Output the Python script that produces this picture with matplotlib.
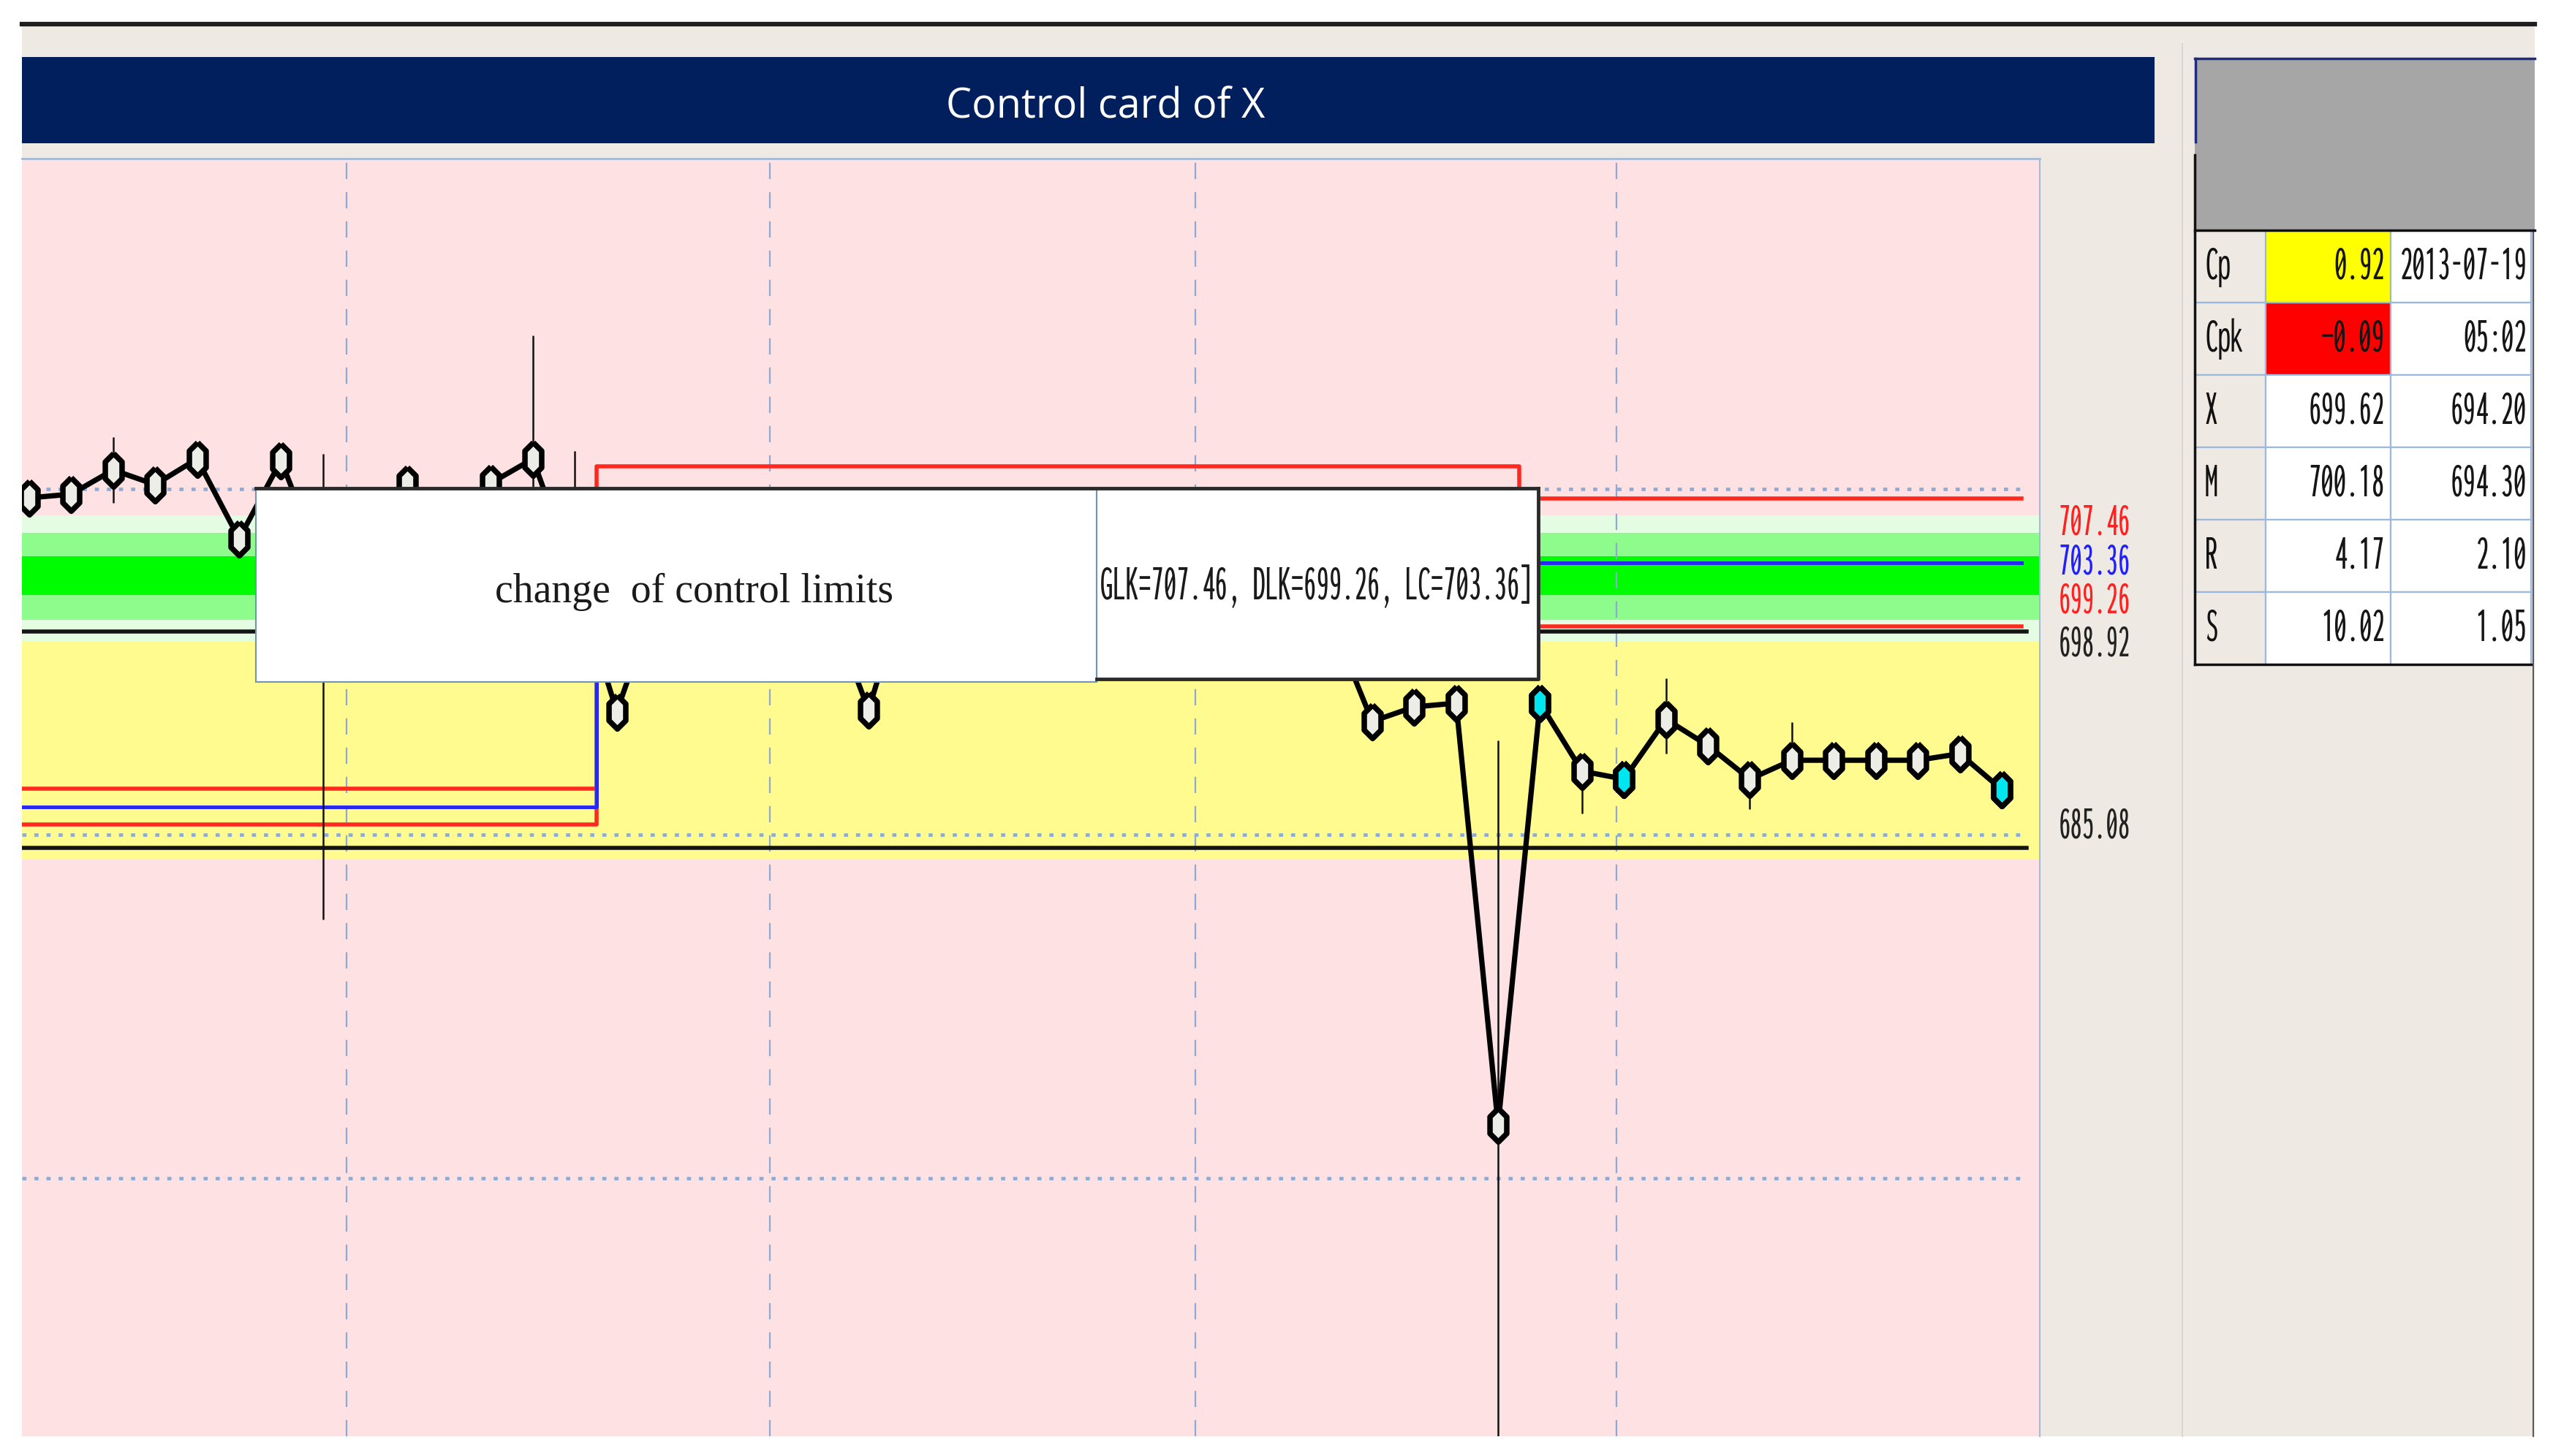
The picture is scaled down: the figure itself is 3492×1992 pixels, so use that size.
import matplotlib
matplotlib.use('Agg')
import matplotlib.pyplot as plt
from matplotlib import font_manager as fm
from matplotlib.font_manager import FontProperties
from matplotlib.markers import MarkerStyle
from matplotlib.patches import Rectangle

# subgroup means, samples 0..47 (the ones under the note box are guesses)
xbar = [707.5, 707.74, 709.29, 708.35, 710.0, 704.88, 709.9, 703.0, 705.5, 708.4,
        704.5, 708.45, 710.0, 702.5, 693.8, 701.5, 703.8, 702.0, 704.6, 701.0,
        693.9, 702.8, 704.0, 701.8, 703.5, 702.2, 704.8, 703.0, 701.5, 703.9,
        702.4, 699.8, 693.17, 694.1, 694.34, 667.3, 694.34, 689.98, 689.47, 693.31,
        691.62, 689.47, 690.68, 690.68, 690.68, 690.68, 691.1, 688.81]
cyan_idx = [36, 38, 47]

# min/max whiskers that show on the picture
rng_idx = [2, 7, 12, 13, 35, 37, 39, 41, 42]
rng_lo = [707.2, 680.47, 705.0, 703.0, 640.0, 687.26, 691.1, 687.55, 690.3]
rng_hi = [711.4, 710.3, 717.9, 710.5, 691.95, 690.0, 695.93, 690.0, 693.12]

# control limits for three periods, change after sample 13 and after 35
lim_change = [13.52, 35.5]
ucl = [688.85, 709.5, 707.46]
cl = [687.7, 704.9, 703.36]
lcl = [686.55, 700.3, 699.26]
usl, lsl = 698.92, 685.08

yellow_zone = (684.31, 698.32)
green_edges = [698.32, 699.68, 701.27, 703.76, 705.26, 706.38]

grid_x = [7.56, 17.65, 27.79, 37.82]
grid_y = [663.9, 685.9, 708.07]

stat_names = ['Cp', 'Cpk', 'X', 'M', 'R', 'S']
stat_all = [0.92, -0.09, 699.62, 700.18, 4.17, 10.02]
stat_last = ['2013-07-19', '05:02', '694.20', '694.30', '2.10', '1.05']

W, H = 3492, 1992
fig = plt.figure(figsize=(W / 100, H / 100), dpi=100, facecolor='white')
renderer = fig.canvas.get_renderer()


def fit(s, prop, width_px):
    p = prop.copy()
    p.set_size(20)
    w = renderer.get_text_width_height_descent(s, p, ismath=False)[0]
    return 20 * width_px / w


def narrow_font():
    picks = []
    for f in fm.fontManager.ttflist:
        if 'condensed' not in str(f.stretch) or f.style != 'normal':
            continue
        w = f.weight if isinstance(f.weight, (int, float)) else fm.weight_dict.get(f.weight, 400)
        if w < 350 or w > 500 or 'Mono' in f.name or 'CJK' in f.name:
            continue
        picks.append(f.fname)
    if not picks:
        return FontProperties(family='Liberation Sans')

    def width(fn):
        p = FontProperties(fname=fn, size=20)
        return renderer.get_text_width_height_descent('699.62', p, ismath=False)[0]
    return FontProperties(fname=min(picks, key=width))


nar = narrow_font()

# window chrome, in pixel coordinates
bg = fig.add_axes([0, 0, 1, 1])
bg.set_xlim(0, W)
bg.set_ylim(H, 0)
bg.axis('off')
bg.add_patch(Rectangle((30, 36), 3437, 1929, fc='#EEE9E3', ec='none'))
bg.plot([30, 3467], [33, 33], color='#1E1E1E', lw=4.5)
bg.add_patch(Rectangle((30, 78), 2917, 118, fc='#001F5C', ec='none'))
bg.plot([30, 2790], [217, 217], color='#A3BAD8', lw=2)
bg.plot([2790, 2790], [217, 1965], color='#A3BAD8', lw=1.5)
bg.plot([2985, 2985], [60, 1965], color='#DCD6CE', lw=1.5)
bg.plot([3465, 3465], [315, 1965], color='#5A5A5A', lw=1.5)

title_prop = FontProperties(family=['Open Sans', 'DejaVu Sans'])
title_prop.set_size(fit('Control card of X', title_prop, 436))
bg.text(1512, 147, 'Control card of X', color='white', ha='center', va='center',
        fontproperties=title_prop)

# statistics table
bg.add_patch(Rectangle((3002, 81), 465, 234, fc='#A6A6A6', ec='none'))
bg.plot([3002, 3467], [80, 80], color='#1F2A80', lw=2.5)
bg.plot([3003, 3003], [80, 194], color='#1F2A80', lw=2.5)

tab_prop = nar.copy()
tab_prop.set_size(fit('699.62', nar, 105))
col_x = [3002, 3099, 3270, 3462]
row_h = 99
top = 315
for i, name in enumerate(stat_names):
    y0 = top + i * row_h
    fill = {0: '#FFFF00', 1: '#FF0000'}.get(i, 'white')
    for c, fc in enumerate(['#EEE9E3', fill, 'white']):
        bg.add_patch(Rectangle((col_x[c], y0), col_x[c + 1] - col_x[c], row_h,
                               fc=fc, ec='#9CB8DC', lw=1.6))
    ym = y0 + row_h / 2
    val = f'{stat_all[i]:.2f}'.replace('-', '\u2212')
    bg.text(3016, ym, name, ha='left', va='center', color='#111111', fontproperties=tab_prop)
    bg.text(3262, ym, val, ha='right', va='center', color='#151515', fontproperties=tab_prop)
    bg.text(3456, ym, stat_last[i], ha='right', va='center', color='#151515',
            fontproperties=tab_prop)
bot = top + len(stat_names) * row_h
bg.plot([3002, 3002], [212, bot], color='#111111', lw=2.5)
bg.plot([3002, 3462], [bot, bot], color='#111111', lw=2.5)
bg.plot([3002, 3467], [top, top], color='#111111', lw=2.5)

# the chart itself
ax = fig.add_axes([30 / W, 1 - 1965 / H, 2759 / W, 1745 / H])
ax.set_facecolor('#FDE1E3')
xmin, xmax = -0.174, 47.89
ax.set_xlim(xmin, xmax)
ax.set_ylim(647.34, 729.11)
for s in ax.spines.values():
    s.set_visible(False)
ax.set_xticks([])
ax.set_yticks([])

ax.axhspan(*yellow_zone, color='#FFFB8E', lw=0, zorder=0.5)
greens = ['#E4FDE2', '#8DFC8D', '#00FC00', '#8DFC8D', '#E4FDE2']
for lo, hi, c in zip(green_edges[:-1], green_edges[1:], greens):
    ax.axhspan(lo, hi, color=c, lw=0, zorder=0.5)

for gx in grid_x:
    ax.axvline(gx, color='#8DA9D6', lw=1.6, ls=(0, (10, 8)), zorder=1)
for gy in grid_y:
    ax.plot([xmin, 47.6], [gy, gy], color='#8CACD8', lw=3.4, ls=(0, (1.2, 2.3)), zorder=1)

for v in (usl, lsl):
    ax.plot([xmin, 47.6], [v, v], color='#141414', lw=4, zorder=1.8)

x_edges = [xmin] + lim_change + [47.47]
ax.plot(x_edges, lcl + [lcl[-1]], drawstyle='steps-post', color='#FF2A1F', lw=4, zorder=2)
ax.plot(x_edges, ucl + [ucl[-1]], drawstyle='steps-post', color='#FF2A1F', lw=4, zorder=2)
ax.plot(x_edges, cl + [cl[-1]], drawstyle='steps-post', color='#2828F0', lw=3.6, zorder=2.1)

hexa = MarkerStyle([(0, 1), (0.5, 0.5), (0.5, -0.5), (0, -1), (-0.5, -0.5), (-0.5, 0.5), (0, 1)],
                   joinstyle='miter')
ax.vlines(rng_idx, rng_lo, rng_hi, color='#111111', lw=1.8, zorder=3)
ax.plot(range(len(xbar)), xbar, color='black', lw=5.2, marker=hexa, ms=33,
        mfc='#EDEDE8', mec='black', mew=5.4, zorder=4)
ax.plot(cyan_idx, [xbar[i] for i in cyan_idx], ls='none', marker=hexa, ms=33,
        mfc='#00E6F0', mec='black', mew=5.4, zorder=5)

# note box about the limit change
ax.add_patch(Rectangle((5.40, 695.70), 25.44 - 5.40, 708.12 - 695.70, fc='white',
                       ec='#7193BA', lw=1.5, zorder=10))
ax.add_patch(Rectangle((25.44, 695.89), 35.96 - 25.44, 708.12 - 695.89, fc='white',
                       ec='#7193BA', lw=1.5, zorder=10))
ax.plot([5.40, 35.96], [708.12, 708.12], color='#2B2B2B', lw=3.5, zorder=11)
ax.plot([25.44, 35.96, 35.96], [695.89, 695.89, 708.12], color='#2B2B2B', lw=3.5, zorder=11)

serif = FontProperties(family=['Liberation Serif', 'DejaVu Serif'])
note = 'change  of control limits'
serif.set_size(fit(note, serif, 545))
ax.text(15.84, 700.81, note, ha='center', va='baseline', color='#1A1A1A',
        fontproperties=serif, zorder=12)

glk = f'GLK={ucl[-1]:.2f}, DLK={lcl[-1]:.2f}, LC={cl[-1]:.2f}]'
glk_prop = nar.copy()
glk_prop.set_size(fit(glk, nar, 596))
ax.text(30.66, 700.95, glk, ha='center', va='baseline', color='#1A1A1A',
        fontproperties=glk_prop, zorder=12)

# limit labels on the right
lab_prop = nar.copy()
lab_prop.set_size(fit('707.46', nar, 99))
lab_vals = [ucl[-1], cl[-1], lcl[-1], usl, lsl]
lab_y = [705.91, 703.38, 700.90, 698.13, 686.47]
lab_col = ['#FF2020', '#2020FF', '#FF2020', '#222222', '#222222']
for v, y, c in zip(lab_vals, lab_y, lab_col):
    ax.text(1.0453, y, f'{v:.2f}', transform=ax.get_yaxis_transform(), ha='right',
            va='center', color=c, fontproperties=lab_prop, clip_on=False)

fig.savefig('out.png', dpi=100, facecolor='white')
